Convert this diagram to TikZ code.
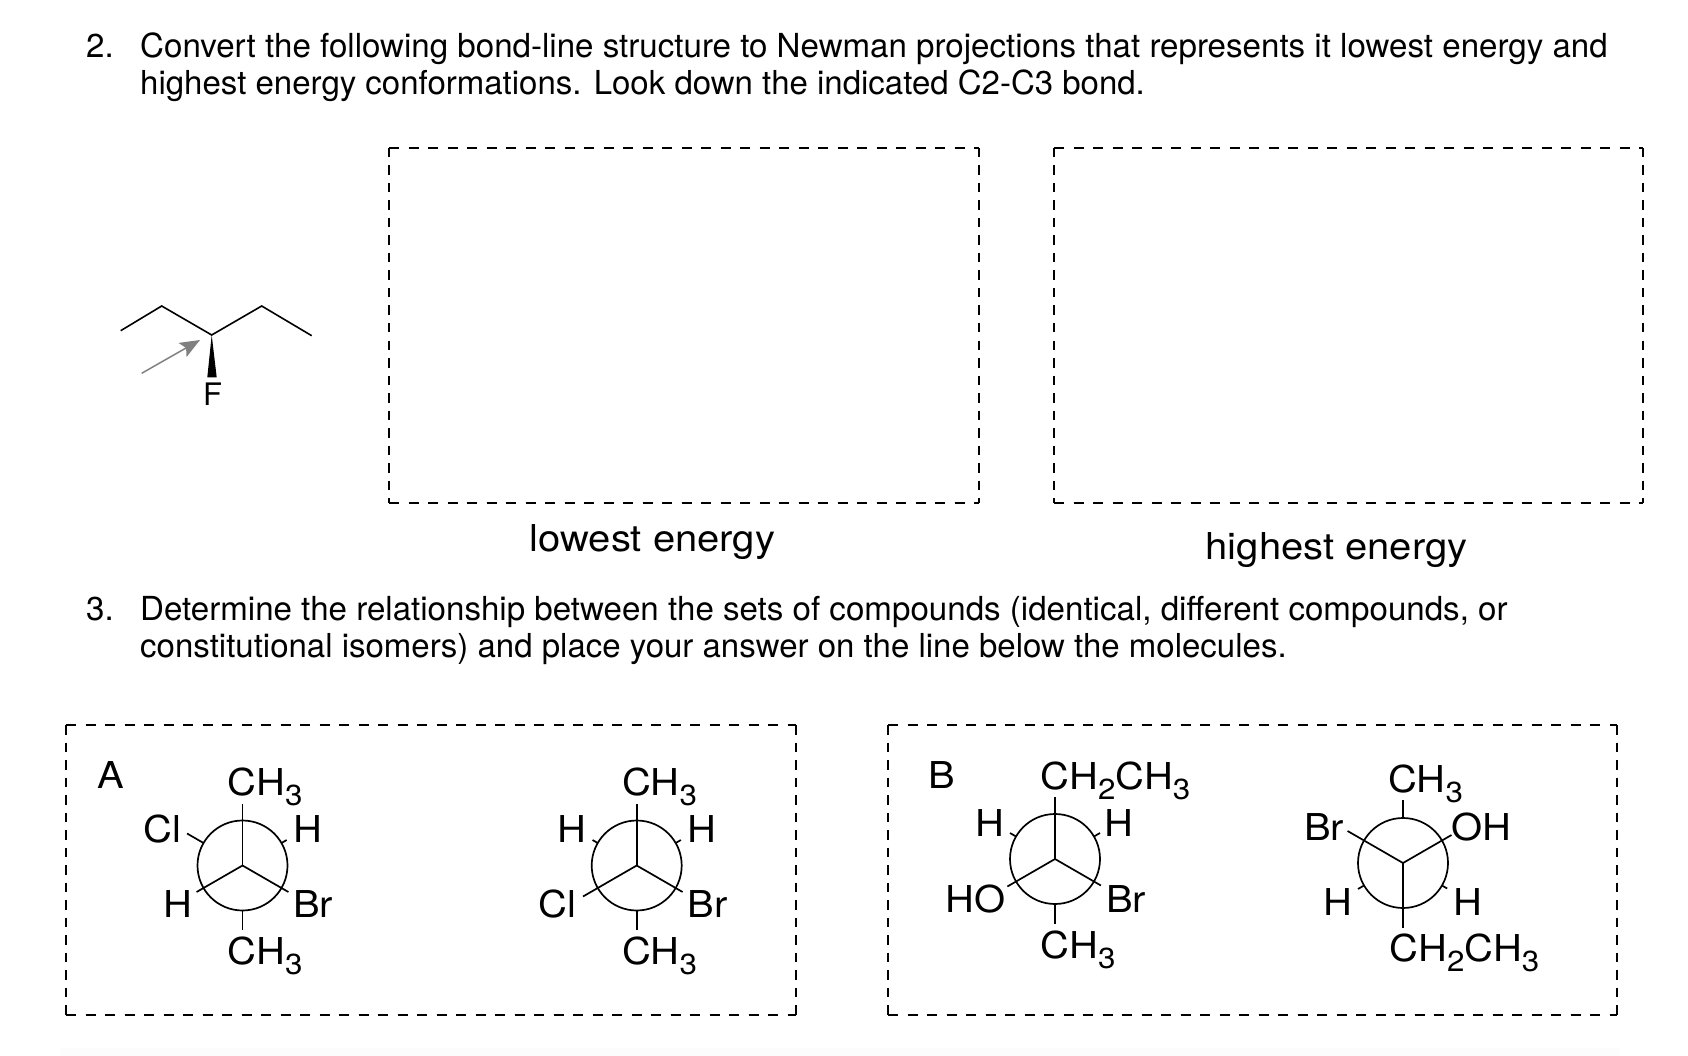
\documentclass[tikz,border=0pt]{standalone}
\usepackage{fontspec}
\setmainfont{TeX Gyre Heros}
\newfontfamily\widefont[FakeStretch=1.08]{TeX Gyre Heros}
\usetikzlibrary{arrows.meta,calc}
\tikzset{
  bondline/.style={line width=1.7pt,black,line cap=butt},
  ring/.style={line width=1.7pt,black},
  hdash/.style={black,dash pattern=on 10pt off 9.5pt},
  vdash/.style={black,dash pattern=on 9.5pt off 8pt},
  para/.style={anchor=base west,inner sep=0pt,font=\fontsize{33.1}{37}\selectfont},
  parb/.style={anchor=base west,inner sep=0pt,font=\fontsize{33}{37}\selectfont},
  atom/.style={anchor=base west,inner sep=0pt,font=\widefont\fontsize{37}{37}\selectfont},
  smallatom/.style={anchor=base west,inner sep=0pt,font=\fontsize{31}{31}\selectfont},
}
\newcommand{\subn}[1]{\raisebox{-10pt}{\fontsize{29}{29}\selectfont #1}}
\newcommand{\frontbond}[3]{\draw[bondline] (#1) -- ($(#1)+(#2:#3)$);}
\newcommand{\backbond}[3]{\draw[bondline] ($(#1)+(#2:45)$) -- ($(#1)+(#2:#3)$);}
% dashed box: corners, line width
\newcommand{\answerframe}[5]{%
  \draw[hdash,line width=#5pt] (#1,#2) -- (#3,#2);
  \draw[hdash,line width=#5pt] (#1,#4) -- (#3,#4);
  \draw[vdash,line width=#5pt] (#1,#2) -- (#1,#4);
  \draw[vdash,line width=#5pt] (#3,#2) -- (#3,#4);}
\begin{document}
\begin{tikzpicture}[x=1pt,y=-1pt]
\useasboundingbox (0,0) rectangle (1688,1056);
\fill[white] (0,0) rectangle (1688,1056);
\fill[black!1] (60,1048) rectangle (1620,1056);
% question text
\node[para] (q2n) at (86,58) {2.};
\node[para] (q2a) at (140,58) {Convert the following bond-line structure to Newman projections that represents it lowest energy and};
\node[parb] (q2b) at (140,94.5) {highest energy conformations. Look down the indicated C2-C3 bond.};
\node[para] (q3n) at (86,620) {3.};
\node[para] (q3a) at (140,620) {Determine the relationship between the sets of compounds (identical, different compounds, or};
\node[parb] (q3b) at (140,657) {constitutional isomers) and place your answer on the line below the molecules.};
\node[atom] (low) at (529.5,551) {lowest energy};
\node[atom] (high) at (1205.5,559) {highest energy};
% boxes
\answerframe{389}{148}{978.5}{503}{2}
\answerframe{1054}{148}{1642.5}{503}{2}
\answerframe{66}{725}{796}{1015}{2.4}
\answerframe{888}{725}{1617}{1015}{2.4}
% bond-line molecule
\coordinate (m1) at (120.7,330.7);
\coordinate (m2) at (161.7,306);
\coordinate (m3) at (211.7,335);
\coordinate (m4) at (261.7,306);
\coordinate (m5) at (311.7,335.7);
\coordinate (wl) at (207.3,377.3);
\coordinate (wr) at (216.7,377.3);
\coordinate (ar0) at (141.7,373.3);
\coordinate (ar1) at (200,340);
\draw[line width=1.6pt,line join=miter] (m1) -- (m2) -- (m3) -- (m4) -- (m5);
\fill (m3) -- (wl) -- (wr) -- cycle;
\draw[line width=1.5pt,color=black!50,-{Stealth[length=20pt,width=16pt,inset=4pt]}] (ar0) -- (ar1);
\node[smallatom] (F) at (203,405) {F};
% set A
\node[atom] (A) at (97,788) {A};
\coordinate (a1) at (242.5,865.5);
\draw[ring] (a1) circle (45);
\frontbond{a1}{-90}{62}\frontbond{a1}{150}{53}\frontbond{a1}{30}{53}
\backbond{a1}{-150}{64}\backbond{a1}{-30}{51}\backbond{a1}{90}{64.5}
\node[atom] at (227.5,795) {CH\subn{3}};
\node[atom] at (143,842.7) {Cl};
\node[atom] at (293,842.7) {H};
\node[atom] at (163,917.7) {H};
\node[atom] at (293,917.7) {Br};
\node[atom] at (227.5,964) {CH\subn{3}};
\coordinate (a2) at (636.7,865.5);
\draw[ring] (a2) circle (45);
\frontbond{a2}{-90}{62}\frontbond{a2}{150}{62}\frontbond{a2}{30}{53}
\backbond{a2}{-150}{51}\backbond{a2}{-30}{51}\backbond{a2}{90}{64.5}
\node[atom] at (622,795) {CH\subn{3}};
\node[atom] at (557,842.7) {H};
\node[atom] at (687,842.7) {H};
\node[atom] at (538,917.7) {Cl};
\node[atom] at (687.7,917.7) {Br};
\node[atom] at (622,964) {CH\subn{3}};
% set B
\node[atom] (B) at (928,788) {B};
\coordinate (b1) at (1055,859);
\draw[ring] (b1) circle (45);
\frontbond{b1}{-90}{62}\frontbond{b1}{150}{55}\frontbond{b1}{30}{53}
\backbond{b1}{-150}{52}\backbond{b1}{-30}{52}\backbond{b1}{90}{65}
\node[atom] at (1040.7,789.3) {CH\subn{2}CH\subn{3}};
\node[atom] at (975.3,836.7) {H};
\node[atom] at (1104.7,836.7) {H};
\node[atom] at (945,912.3) {HO};
\node[atom] at (1106,912.3) {Br};
\node[atom] at (1040.7,958.3) {CH\subn{3}};
\coordinate (b2) at (1403,863);
\draw[ring] (b2) circle (45);
\frontbond{b2}{-150}{64}\frontbond{b2}{-30}{56}\frontbond{b2}{90}{65}
\backbond{b2}{-90}{63}\backbond{b2}{150}{52}\backbond{b2}{30}{51}
\node[atom] at (1388,792.7) {CH\subn{3}};
\node[atom] at (1304,840.7) {Br};
\node[atom] at (1451,840.7) {OH};
\node[atom] at (1323.7,915.7) {H};
\node[atom] at (1453.7,915.7) {H};
\node[atom] at (1389.7,961.7) {CH\subn{2}CH\subn{3}};
\end{tikzpicture}
\end{document}
